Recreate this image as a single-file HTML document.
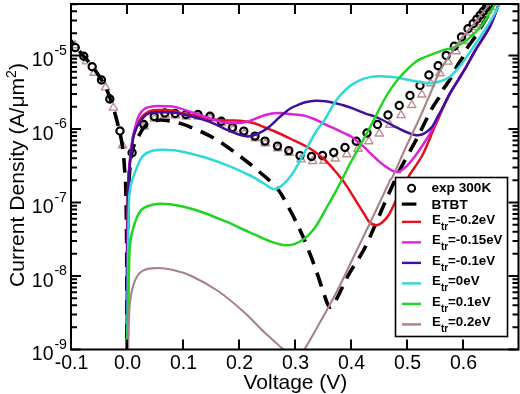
<!DOCTYPE html><html><head><meta charset="utf-8"><style>html,body{margin:0;padding:0;background:#fff;}svg{display:block;}text{font-family:"Liberation Sans",Arial,sans-serif;}</style></head><body>
<svg width="520" height="394" viewBox="0 0 520 394">
<rect width="520" height="394" fill="#fff"/>
<defs><clipPath id="pc"><rect x="71" y="4" width="447.5" height="345.5"/></clipPath></defs>
<g clip-path="url(#pc)" fill="none" stroke-linejoin="round" stroke-linecap="round">
<path d="M75.00 40.60L79.18 47.73H70.82Z" stroke="#bc8f8f" stroke-width="1.4"/>
<path d="M86.50 56.70L90.68 63.83H82.32Z" stroke="#bc8f8f" stroke-width="1.4"/>
<path d="M94.10 68.10L98.28 75.23H89.92Z" stroke="#bc8f8f" stroke-width="1.4"/>
<path d="M105.60 82.70L109.78 89.83H101.42Z" stroke="#bc8f8f" stroke-width="1.4"/>
<path d="M113.40 103.00L117.58 110.13H109.22Z" stroke="#bc8f8f" stroke-width="1.4"/>
<path d="M122.60 140.60L126.78 147.73H118.42Z" stroke="#bc8f8f" stroke-width="1.4"/>
<path d="M144.10 121.81L148.28 128.93H139.92Z" stroke="#bc8f8f" stroke-width="1.4"/>
<path d="M154.50 113.82L158.68 120.95H150.32Z" stroke="#bc8f8f" stroke-width="1.4"/>
<path d="M165.10 110.33L169.28 117.46H160.92Z" stroke="#bc8f8f" stroke-width="1.4"/>
<path d="M175.50 110.85L179.68 117.97H171.32Z" stroke="#bc8f8f" stroke-width="1.4"/>
<path d="M186.30 111.86L190.48 118.99H182.12Z" stroke="#bc8f8f" stroke-width="1.4"/>
<path d="M198.30 111.88L202.48 119.01H194.12Z" stroke="#bc8f8f" stroke-width="1.4"/>
<path d="M210.30 113.69L214.48 120.82H206.12Z" stroke="#bc8f8f" stroke-width="1.4"/>
<path d="M221.60 118.71L225.78 125.84H217.42Z" stroke="#bc8f8f" stroke-width="1.4"/>
<path d="M232.80 124.82L236.98 131.95H228.62Z" stroke="#bc8f8f" stroke-width="1.4"/>
<path d="M244.10 128.54L248.28 135.67H239.92Z" stroke="#bc8f8f" stroke-width="1.4"/>
<path d="M255.30 133.55L259.48 140.68H251.12Z" stroke="#bc8f8f" stroke-width="1.4"/>
<path d="M265.30 138.57L269.48 145.69H261.12Z" stroke="#bc8f8f" stroke-width="1.4"/>
<path d="M277.80 143.58L281.98 150.71H273.62Z" stroke="#bc8f8f" stroke-width="1.4"/>
<path d="M289.10 148.10L293.28 155.23H284.92Z" stroke="#bc8f8f" stroke-width="1.4"/>
<path d="M301.00 154.70L305.18 161.83H296.82Z" stroke="#bc8f8f" stroke-width="1.4"/>
<path d="M312.70 156.37L316.88 163.49H308.52Z" stroke="#bc8f8f" stroke-width="1.4"/>
<path d="M323.90 156.10L328.08 163.23H319.72Z" stroke="#bc8f8f" stroke-width="1.4"/>
<path d="M335.35 153.85L339.53 160.98H331.17Z" stroke="#bc8f8f" stroke-width="1.4"/>
<path d="M346.80 149.60L350.98 156.73H342.62Z" stroke="#bc8f8f" stroke-width="1.4"/>
<path d="M358.05 144.13L362.23 151.26H353.87Z" stroke="#bc8f8f" stroke-width="1.4"/>
<path d="M368.80 136.63L372.98 143.76H364.62Z" stroke="#bc8f8f" stroke-width="1.4"/>
<path d="M379.30 128.87L383.48 136.00H375.12Z" stroke="#bc8f8f" stroke-width="1.4"/>
<path d="M389.80 120.10L393.98 127.23H385.62Z" stroke="#bc8f8f" stroke-width="1.4"/>
<path d="M401.05 110.47L405.23 117.60H396.87Z" stroke="#bc8f8f" stroke-width="1.4"/>
<path d="M411.80 100.35L415.98 107.48H407.62Z" stroke="#bc8f8f" stroke-width="1.4"/>
<path d="M421.80 89.85L425.98 96.98H417.62Z" stroke="#bc8f8f" stroke-width="1.4"/>
<path d="M430.70 78.58L434.88 85.71H426.52Z" stroke="#bc8f8f" stroke-width="1.4"/>
<path d="M439.90 68.59L444.08 75.71H435.72Z" stroke="#bc8f8f" stroke-width="1.4"/>
<path d="M448.00 57.01L452.18 64.14H443.82Z" stroke="#bc8f8f" stroke-width="1.4"/>
<path d="M456.10 46.63L460.28 53.76H451.92Z" stroke="#bc8f8f" stroke-width="1.4"/>
<path d="M463.30 36.50L467.48 43.63H459.12Z" stroke="#bc8f8f" stroke-width="1.4"/>
<path d="M469.80 27.87L473.98 34.99H465.62Z" stroke="#bc8f8f" stroke-width="1.4"/>
<path d="M475.00 22.32L479.18 29.45H470.82Z" stroke="#bc8f8f" stroke-width="1.4"/>
<path d="M478.60 17.68L482.78 24.81H474.42Z" stroke="#bc8f8f" stroke-width="1.4"/>
<path d="M482.00 13.45L486.18 20.58H477.82Z" stroke="#bc8f8f" stroke-width="1.4"/>
<path d="M485.00 9.55L489.18 16.68H480.82Z" stroke="#bc8f8f" stroke-width="1.4"/>
<path d="M488.00 5.65L492.18 12.78H483.82Z" stroke="#bc8f8f" stroke-width="1.4"/>
<path d="M490.30 2.50L494.48 9.63H486.12Z" stroke="#bc8f8f" stroke-width="1.4"/>
<circle cx="75.2" cy="47.6" r="3.6" stroke="#000" stroke-width="2.2"/>
<circle cx="83.8" cy="56.3" r="3.6" stroke="#000" stroke-width="2.2"/>
<circle cx="92.2" cy="66.8" r="3.6" stroke="#000" stroke-width="2.2"/>
<circle cx="101.5" cy="80" r="3.6" stroke="#000" stroke-width="2.2"/>
<circle cx="109.8" cy="99" r="3.6" stroke="#000" stroke-width="2.2"/>
<circle cx="120" cy="131" r="3.6" stroke="#000" stroke-width="2.2"/>
<circle cx="132.1" cy="152.8" r="3.6" stroke="#000" stroke-width="2.2"/>
<circle cx="143.8" cy="124.5" r="3.6" stroke="#000" stroke-width="2.2"/>
<circle cx="154.2" cy="116.5" r="3.6" stroke="#000" stroke-width="2.2"/>
<circle cx="164.8" cy="113" r="3.6" stroke="#000" stroke-width="2.2"/>
<circle cx="175.2" cy="113.5" r="3.6" stroke="#000" stroke-width="2.2"/>
<circle cx="186" cy="114.5" r="3.6" stroke="#000" stroke-width="2.2"/>
<circle cx="198" cy="114.5" r="3.6" stroke="#000" stroke-width="2.2"/>
<circle cx="210" cy="116.3" r="3.6" stroke="#000" stroke-width="2.2"/>
<circle cx="221.3" cy="121.3" r="3.6" stroke="#000" stroke-width="2.2"/>
<circle cx="232.5" cy="127.4" r="3.6" stroke="#000" stroke-width="2.2"/>
<circle cx="243.8" cy="131.1" r="3.6" stroke="#000" stroke-width="2.2"/>
<circle cx="255" cy="136.1" r="3.6" stroke="#000" stroke-width="2.2"/>
<circle cx="265" cy="141.1" r="3.6" stroke="#000" stroke-width="2.2"/>
<circle cx="277.5" cy="146.1" r="3.6" stroke="#000" stroke-width="2.2"/>
<circle cx="288.8" cy="150.6" r="3.6" stroke="#000" stroke-width="2.2"/>
<circle cx="300" cy="155.6" r="3.6" stroke="#000" stroke-width="2.2"/>
<circle cx="311.5" cy="156.5" r="3.6" stroke="#000" stroke-width="2.2"/>
<circle cx="322.5" cy="155.5" r="3.6" stroke="#000" stroke-width="2.2"/>
<circle cx="333.75" cy="152.5" r="3.6" stroke="#000" stroke-width="2.2"/>
<circle cx="345" cy="147.5" r="3.6" stroke="#000" stroke-width="2.2"/>
<circle cx="356.25" cy="141.25" r="3.6" stroke="#000" stroke-width="2.2"/>
<circle cx="367" cy="133" r="3.6" stroke="#000" stroke-width="2.2"/>
<circle cx="377.5" cy="124.5" r="3.6" stroke="#000" stroke-width="2.2"/>
<circle cx="388" cy="115" r="3.6" stroke="#000" stroke-width="2.2"/>
<circle cx="399.25" cy="105.5" r="3.6" stroke="#000" stroke-width="2.2"/>
<circle cx="410" cy="95.5" r="3.6" stroke="#000" stroke-width="2.2"/>
<circle cx="420" cy="85.5" r="3.6" stroke="#000" stroke-width="2.2"/>
<circle cx="428.9" cy="75" r="3.6" stroke="#000" stroke-width="2.2"/>
<circle cx="438.1" cy="65.8" r="3.6" stroke="#000" stroke-width="2.2"/>
<circle cx="446.2" cy="55.4" r="3.6" stroke="#000" stroke-width="2.2"/>
<circle cx="454.3" cy="46.2" r="3.6" stroke="#000" stroke-width="2.2"/>
<circle cx="461.5" cy="37" r="3.6" stroke="#000" stroke-width="2.2"/>
<circle cx="468" cy="28.8" r="3.6" stroke="#000" stroke-width="2.2"/>
<circle cx="473.2" cy="23.6" r="3.6" stroke="#000" stroke-width="2.2"/>
<circle cx="476.8" cy="19.2" r="3.6" stroke="#000" stroke-width="2.2"/>
<circle cx="480.2" cy="15.2" r="3.6" stroke="#000" stroke-width="2.2"/>
<circle cx="483.2" cy="11.5" r="3.6" stroke="#000" stroke-width="2.2"/>
<circle cx="486.2" cy="7.8" r="3.6" stroke="#000" stroke-width="2.2"/>
<circle cx="488.5" cy="4.8" r="3.6" stroke="#000" stroke-width="2.2"/>
<path d="M71.00 40.70C71.67 41.58 73.00 43.53 75.00 46.00C77.00 48.47 80.17 52.17 83.00 55.50C85.83 58.83 89.00 62.08 92.00 66.00C95.00 69.92 98.67 75.33 101.00 79.00C103.33 82.67 104.50 84.83 106.00 88.00C107.50 91.17 108.67 94.33 110.00 98.00C111.33 101.67 112.67 105.50 114.00 110.00C115.33 114.50 116.83 120.33 118.00 125.00C119.17 129.67 120.13 133.50 121.00 138.00C121.87 142.50 122.62 147.00 123.20 152.00C123.78 157.00 124.07 161.67 124.50 168.00C124.93 174.33 125.43 176.33 125.80 190.00C126.17 203.67 126.50 223.00 126.70 250.00C126.90 277.00 126.95 335.00 127.00 352.00" stroke="#000" stroke-width="3.6" stroke-dasharray="14.5 9.15" stroke-dashoffset="-13.4" stroke-linecap="butt"/>
<path d="M127.20 352.00C127.27 335.00 127.43 275.33 127.60 250.00C127.77 224.67 127.97 211.67 128.20 200.00C128.43 188.33 128.37 188.00 129.00 180.00C129.63 172.00 130.42 159.27 132.00 152.00C133.58 144.73 136.15 140.90 138.50 136.40C140.85 131.90 142.93 127.68 146.10 125.00C149.27 122.32 153.85 121.03 157.50 120.30C161.15 119.57 164.45 120.15 168.00 120.60C171.55 121.05 174.97 121.88 178.80 123.00C182.63 124.12 184.97 124.67 191.00 127.30C197.03 129.93 206.83 133.93 215.00 138.75C223.17 143.57 232.50 150.62 240.00 156.25C247.50 161.88 253.75 167.08 260.00 172.50C266.25 177.92 272.50 182.50 277.50 188.75C282.50 195.00 286.25 203.12 290.00 210.00C293.75 216.88 297.08 223.75 300.00 230.00C302.92 236.25 304.75 240.58 307.50 247.50C310.25 254.42 313.65 263.45 316.50 271.50C319.35 279.55 322.43 289.88 324.60 295.80C326.77 301.72 327.70 306.10 329.50 307.00C331.30 307.90 332.17 306.67 335.40 301.20C338.63 295.73 344.18 282.73 348.90 274.20C353.62 265.67 359.30 258.23 363.70 250.00C368.10 241.77 371.58 233.13 375.30 224.80C379.02 216.47 381.95 209.07 386.00 200.00C390.05 190.93 394.42 180.72 399.60 170.40C404.78 160.08 411.82 148.23 417.10 138.10C422.38 127.97 427.58 116.47 431.30 109.60C435.02 102.73 437.37 100.37 439.40 96.90C441.43 93.43 441.80 91.58 443.50 88.80C445.20 86.02 447.30 84.05 449.60 80.20C451.90 76.35 455.12 69.52 457.30 65.70C459.48 61.88 460.98 60.35 462.70 57.30C464.42 54.25 465.52 50.82 467.60 47.40C469.68 43.98 473.03 40.10 475.20 36.80C477.37 33.50 479.07 30.15 480.60 27.60C482.13 25.05 482.83 24.10 484.40 21.50C485.97 18.90 488.32 15.08 490.00 12.00C491.68 8.92 493.58 4.83 494.50 3.00C495.42 1.17 495.33 1.33 495.50 1.00" stroke="#000" stroke-width="3.6" stroke-dasharray="14.5 9.15" stroke-dashoffset="-4.7" stroke-linecap="butt"/>
<path d="M127.20 352.00C127.27 335.00 127.47 275.33 127.60 250.00C127.73 224.67 127.85 211.67 128.00 200.00C128.15 188.33 128.23 185.83 128.50 180.00C128.77 174.17 129.18 169.67 129.60 165.00C130.02 160.33 130.43 156.50 131.00 152.00C131.57 147.50 132.12 142.00 133.00 138.00C133.88 134.00 134.93 131.38 136.30 128.00C137.67 124.62 138.85 120.57 141.20 117.70C143.55 114.83 146.95 112.08 150.40 110.80C153.85 109.52 158.32 110.07 161.90 110.00C165.48 109.93 168.88 109.93 171.90 110.40C174.92 110.87 176.15 111.87 180.00 112.80C183.85 113.73 190.00 114.97 195.00 116.00C200.00 117.03 205.38 118.27 210.00 119.00C214.62 119.73 218.67 120.17 222.70 120.40C226.73 120.63 230.62 120.27 234.20 120.40C237.78 120.53 240.73 120.68 244.20 121.20C247.67 121.72 251.53 122.45 255.00 123.50C258.47 124.55 261.67 126.17 265.00 127.50C268.33 128.83 270.83 129.67 275.00 131.50C279.17 133.33 284.17 135.67 290.00 138.50C295.83 141.33 304.17 144.92 310.00 148.50C315.83 152.08 320.97 156.42 325.00 160.00C329.03 163.58 331.42 166.82 334.20 170.00C336.98 173.18 339.50 176.25 341.70 179.10C343.90 181.95 345.50 184.25 347.40 187.10C349.30 189.95 351.20 193.17 353.10 196.20C355.00 199.23 356.90 202.25 358.80 205.30C360.70 208.35 362.80 211.80 364.50 214.50C366.20 217.20 367.20 219.70 369.00 221.50C370.80 223.30 373.10 225.13 375.30 225.30C377.50 225.47 379.92 224.30 382.20 222.50C384.48 220.70 386.92 217.73 389.00 214.50C391.08 211.27 392.62 207.27 394.70 203.10C396.78 198.93 399.12 194.05 401.50 189.50C403.88 184.95 405.50 181.55 409.00 175.80C412.50 170.05 418.45 162.63 422.50 155.00C426.55 147.37 430.63 136.08 433.30 130.00C435.97 123.92 437.00 121.92 438.50 118.50C440.00 115.08 440.38 113.68 442.30 109.50C444.22 105.32 447.38 98.27 450.00 93.40C452.62 88.53 455.23 84.83 458.00 80.30C460.77 75.77 463.73 71.17 466.60 66.20C469.47 61.23 471.35 57.05 475.20 50.50C479.05 43.95 485.73 34.65 489.70 26.90C493.67 19.15 497.28 8.15 499.00 4.00C500.72 -0.15 499.83 2.33 500.00 2.00" stroke="#e4101e" stroke-width="2.5"/>
<path d="M127.20 352.00C127.25 335.00 127.38 275.33 127.50 250.00C127.62 224.67 127.77 211.67 127.90 200.00C128.03 188.33 128.05 185.83 128.30 180.00C128.55 174.17 128.98 169.67 129.40 165.00C129.82 160.33 130.27 156.50 130.80 152.00C131.33 147.50 131.90 142.00 132.60 138.00C133.30 134.00 133.97 131.70 135.00 128.00C136.03 124.30 137.13 119.05 138.80 115.80C140.47 112.55 142.43 110.10 145.00 108.50C147.57 106.90 150.73 106.58 154.20 106.20C157.67 105.82 162.33 106.08 165.80 106.20C169.27 106.32 170.72 105.88 175.00 106.90C179.28 107.92 186.82 110.75 191.50 112.30C196.18 113.85 199.25 114.92 203.10 116.20C206.95 117.48 210.70 118.90 214.60 120.00C218.50 121.10 222.58 122.28 226.50 122.80C230.42 123.32 234.88 123.27 238.10 123.10C241.32 122.93 243.82 122.17 245.80 121.80C247.78 121.43 247.60 121.73 250.00 120.90C252.40 120.07 256.82 117.98 260.20 116.80C263.58 115.62 266.92 114.42 270.30 113.80C273.68 113.18 277.10 113.05 280.50 113.10C283.90 113.15 287.45 113.78 290.70 114.10C293.95 114.42 297.58 114.70 300.00 115.00C302.42 115.30 302.65 115.15 305.20 115.90C307.75 116.65 311.92 118.05 315.30 119.50C318.68 120.95 322.10 123.00 325.50 124.60C328.90 126.20 332.45 127.62 335.70 129.10C338.95 130.58 342.37 132.22 345.00 133.50C347.63 134.78 349.33 135.38 351.50 136.80C353.67 138.22 355.68 140.10 358.00 142.00C360.32 143.90 363.40 146.38 365.40 148.20C367.40 150.02 368.07 151.02 370.00 152.90C371.93 154.78 374.75 157.48 377.00 159.50C379.25 161.52 380.85 163.08 383.50 165.00C386.15 166.92 390.33 169.88 392.90 171.00C395.47 172.12 396.88 172.25 398.90 171.70C400.92 171.15 402.42 170.17 405.00 167.70C407.58 165.23 411.27 160.93 414.40 156.90C417.53 152.87 420.88 147.98 423.80 143.50C426.72 139.02 429.62 134.25 431.90 130.00C434.18 125.75 435.85 121.42 437.50 118.00C439.15 114.58 439.72 113.60 441.80 109.50C443.88 105.40 447.30 98.27 450.00 93.40C452.70 88.53 455.23 84.83 458.00 80.30C460.77 75.77 463.73 71.17 466.60 66.20C469.47 61.23 471.35 57.05 475.20 50.50C479.05 43.95 485.73 34.65 489.70 26.90C493.67 19.15 497.28 8.15 499.00 4.00C500.72 -0.15 499.83 2.33 500.00 2.00" stroke="#dc22dc" stroke-width="2.5"/>
<path d="M127.20 352.00C127.27 335.00 127.45 275.33 127.60 250.00C127.75 224.67 127.93 211.67 128.10 200.00C128.27 188.33 128.32 185.83 128.60 180.00C128.88 174.17 129.35 169.67 129.80 165.00C130.25 160.33 130.70 156.67 131.30 152.00C131.90 147.33 132.58 140.92 133.40 137.00C134.22 133.08 135.17 130.92 136.20 128.50C137.23 126.08 137.88 124.82 139.60 122.50C141.32 120.18 144.07 116.30 146.50 114.60C148.93 112.90 150.98 112.68 154.20 112.30C157.42 111.92 162.33 112.23 165.80 112.30C169.27 112.37 170.72 112.00 175.00 112.70C179.28 113.40 186.82 115.35 191.50 116.50C196.18 117.65 199.25 118.38 203.10 119.60C206.95 120.82 210.70 122.13 214.60 123.80C218.50 125.47 222.58 127.87 226.50 129.60C230.42 131.33 234.52 133.03 238.10 134.20C241.68 135.37 244.67 136.70 248.00 136.60C251.33 136.50 254.72 135.12 258.10 133.60C261.48 132.08 264.57 130.38 268.30 127.50C272.03 124.62 276.77 119.52 280.50 116.30C284.23 113.08 287.45 110.22 290.70 108.20C293.95 106.18 297.58 105.20 300.00 104.20C302.42 103.20 302.65 102.78 305.20 102.20C307.75 101.62 311.92 100.87 315.30 100.70C318.68 100.53 322.10 100.78 325.50 101.20C328.90 101.62 332.45 102.43 335.70 103.20C338.95 103.97 341.95 104.85 345.00 105.80C348.05 106.75 350.47 107.57 354.00 108.90C357.53 110.23 363.02 112.63 366.20 113.80C369.38 114.97 370.55 114.95 373.10 115.90C375.65 116.85 377.85 117.72 381.50 119.50C385.15 121.28 391.08 124.60 395.00 126.60C398.92 128.60 402.50 130.35 405.00 131.50C407.50 132.65 408.17 132.88 410.00 133.50C411.83 134.12 414.00 135.03 416.00 135.20C418.00 135.37 420.08 135.16 422.00 134.50C423.92 133.84 425.75 132.62 427.50 131.25C429.25 129.88 430.92 128.46 432.50 126.25C434.08 124.04 435.50 120.71 437.00 118.00C438.50 115.29 439.33 114.10 441.50 110.00C443.67 105.90 447.25 98.35 450.00 93.40C452.75 88.45 455.23 84.83 458.00 80.30C460.77 75.77 463.73 71.17 466.60 66.20C469.47 61.23 471.35 57.05 475.20 50.50C479.05 43.95 485.73 34.65 489.70 26.90C493.67 19.15 497.28 8.15 499.00 4.00C500.72 -0.15 499.83 2.33 500.00 2.00" stroke="#400f9f" stroke-width="2.5"/>
<path d="M127.20 352.00C127.42 330.00 128.03 247.00 128.50 220.00C128.97 193.00 129.08 197.50 130.00 190.00C130.92 182.50 132.02 180.45 134.00 175.00C135.98 169.55 139.03 161.28 141.90 157.30C144.77 153.32 147.73 152.37 151.20 151.10C154.67 149.83 159.15 149.85 162.70 149.70C166.25 149.55 169.42 149.90 172.50 150.20C175.58 150.50 175.90 150.32 181.20 151.50C186.50 152.68 196.60 154.98 204.30 157.30C212.00 159.62 220.47 162.70 227.40 165.40C234.33 168.10 241.30 171.38 245.90 173.50C250.50 175.62 251.82 176.30 255.00 178.10C258.18 179.90 261.88 182.44 265.00 184.30C268.12 186.16 270.83 189.13 273.75 189.25C276.67 189.37 279.54 187.38 282.50 185.00C285.46 182.62 288.50 179.17 291.50 175.00C294.50 170.83 296.50 167.08 300.50 160.00C304.50 152.92 311.48 139.17 315.50 132.50C319.52 125.83 321.28 125.17 324.60 120.00C327.92 114.83 331.80 106.63 335.40 101.50C339.00 96.37 342.35 92.65 346.20 89.20C350.05 85.75 354.40 82.85 358.50 80.80C362.60 78.75 367.22 77.67 370.80 76.90C374.38 76.13 376.77 76.22 380.00 76.20C383.23 76.18 386.82 76.45 390.20 76.80C393.58 77.15 396.92 77.72 400.30 78.30C403.68 78.88 407.22 79.68 410.50 80.30C413.78 80.92 416.70 81.52 420.00 82.00C423.30 82.48 426.88 83.33 430.30 83.20C433.72 83.07 437.17 82.32 440.50 81.20C443.83 80.08 446.83 79.30 450.30 76.50C453.77 73.70 457.78 68.82 461.30 64.40C464.82 59.98 468.07 54.87 471.40 50.00C474.73 45.13 478.25 39.82 481.30 35.20C484.35 30.58 487.58 25.67 489.70 22.30C491.82 18.93 492.52 17.70 494.00 15.00C495.48 12.30 497.60 8.10 498.60 6.10C499.60 4.10 499.77 3.52 500.00 3.00" stroke="#30d8d8" stroke-width="2.5"/>
<path d="M127.20 352.00C127.42 341.67 128.10 307.00 128.50 290.00C128.90 273.00 129.10 259.17 129.60 250.00C130.10 240.83 130.73 239.17 131.50 235.00C132.27 230.83 133.20 228.17 134.20 225.00C135.20 221.83 136.33 218.50 137.50 216.00C138.67 213.50 139.45 211.67 141.20 210.00C142.95 208.33 144.93 207.03 148.00 206.00C151.07 204.97 155.93 204.08 159.60 203.80C163.27 203.52 166.15 203.85 170.00 204.30C173.85 204.75 178.53 205.58 182.70 206.50C186.87 207.42 191.15 208.63 195.00 209.80C198.85 210.97 202.13 212.13 205.80 213.50C209.47 214.87 213.15 216.47 217.00 218.00C220.85 219.53 225.07 221.03 228.90 222.70C232.73 224.37 235.65 226.02 240.00 228.00C244.35 229.98 250.00 232.38 255.00 234.60C260.00 236.82 264.58 239.52 270.00 241.30C275.42 243.08 282.08 245.52 287.50 245.30C292.92 245.08 297.92 242.97 302.50 240.00C307.08 237.03 310.83 233.17 315.00 227.50C319.17 221.83 324.00 212.07 327.50 206.00C331.00 199.93 332.78 197.10 336.00 191.10C339.22 185.10 344.26 174.97 346.80 170.00C349.34 165.03 347.88 167.47 351.25 161.30C354.62 155.13 363.24 139.88 367.00 133.00C370.76 126.12 370.95 125.50 373.80 120.00C376.65 114.50 381.20 105.27 384.10 100.00C387.00 94.73 388.67 92.10 391.20 88.40C393.73 84.70 396.60 81.02 399.30 77.80C402.00 74.58 404.70 71.73 407.40 69.10C410.10 66.47 413.33 63.68 415.50 62.00C417.67 60.32 417.47 60.35 420.40 59.00C423.33 57.65 429.23 55.38 433.10 53.90C436.97 52.42 440.58 51.05 443.60 50.10C446.62 49.15 448.67 49.03 451.20 48.20C453.73 47.37 456.33 46.33 458.80 45.10C461.27 43.87 464.10 42.13 466.00 40.80C467.90 39.47 468.48 38.65 470.20 37.10C471.92 35.55 474.50 33.30 476.30 31.50C478.10 29.70 479.20 28.63 481.00 26.30C482.80 23.97 484.80 21.12 487.10 17.50C489.40 13.88 493.32 7.10 494.80 4.60C496.28 2.10 495.80 2.85 496.00 2.50" stroke="#22d422" stroke-width="2.5"/>
<path d="M127.20 352.00C127.37 351.08 127.77 354.50 128.20 346.50C128.63 338.50 128.72 314.90 129.80 304.00C130.88 293.10 132.52 286.65 134.70 281.10C136.88 275.55 139.37 272.87 142.90 270.70C146.43 268.53 151.00 268.27 155.90 268.10C160.80 267.93 166.30 268.35 172.30 269.70C178.30 271.05 184.28 272.65 191.90 276.20C199.52 279.75 209.28 285.00 218.00 291.00C226.72 297.00 236.57 305.40 244.20 312.20C251.83 319.00 257.53 325.82 263.80 331.80C270.07 337.78 278.43 344.73 281.80 348.10C285.17 351.47 283.63 351.35 284.00 352.00" stroke="#a98285" stroke-width="2.1"/>
<path d="M303.00 352.00C303.27 351.55 303.28 351.53 304.60 349.30C305.92 347.07 308.37 343.05 310.90 338.60C313.43 334.15 316.83 327.92 319.80 322.60C322.77 317.28 325.33 312.92 328.70 306.70C332.07 300.48 335.30 294.75 340.00 285.30C344.70 275.85 351.87 260.47 356.90 250.00C361.93 239.53 365.27 232.83 370.20 222.50C375.13 212.17 383.17 195.08 386.50 188.00C389.83 180.92 389.00 182.23 390.20 180.00C391.40 177.77 391.15 179.93 393.70 174.60C396.25 169.27 401.52 156.68 405.50 148.00C409.48 139.32 414.65 128.83 417.60 122.50C420.55 116.17 420.83 115.42 423.20 110.00C425.57 104.58 428.92 96.67 431.80 90.00C434.68 83.33 436.17 77.82 440.50 70.00C444.83 62.18 451.97 51.13 457.80 43.10C463.63 35.07 470.13 28.40 475.50 21.80C480.87 15.20 487.42 6.80 490.00 3.50C492.58 0.20 490.83 2.25 491.00 2.00" stroke="#a98285" stroke-width="2.1"/>
</g>
<rect x="71.0" y="4.0" width="447.5" height="345.5" fill="none" stroke="#000" stroke-width="2"/>
<path d="M127.00 349.5V339.5M127.00 4.0V14.0M183.00 349.5V339.5M183.00 4.0V14.0M239.00 349.5V339.5M239.00 4.0V14.0M295.00 349.5V339.5M295.00 4.0V14.0M351.00 349.5V339.5M351.00 4.0V14.0M407.00 349.5V339.5M407.00 4.0V14.0M463.00 349.5V339.5M463.00 4.0V14.0M71.0 349.50H81.0M518.5 349.50H508.5M71.0 327.37H77.0M518.5 327.37H512.5M71.0 314.43H77.0M518.5 314.43H512.5M71.0 305.25H77.0M518.5 305.25H512.5M71.0 298.13H77.0M518.5 298.13H512.5M71.0 292.31H77.0M518.5 292.31H512.5M71.0 287.39H77.0M518.5 287.39H512.5M71.0 283.12H77.0M518.5 283.12H512.5M71.0 279.36H77.0M518.5 279.36H512.5M71.0 276.00H81.0M518.5 276.00H508.5M71.0 253.87H77.0M518.5 253.87H512.5M71.0 240.93H77.0M518.5 240.93H512.5M71.0 231.75H77.0M518.5 231.75H512.5M71.0 224.63H77.0M518.5 224.63H512.5M71.0 218.81H77.0M518.5 218.81H512.5M71.0 213.89H77.0M518.5 213.89H512.5M71.0 209.62H77.0M518.5 209.62H512.5M71.0 205.86H77.0M518.5 205.86H512.5M71.0 202.50H81.0M518.5 202.50H508.5M71.0 180.37H77.0M518.5 180.37H512.5M71.0 167.43H77.0M518.5 167.43H512.5M71.0 158.25H77.0M518.5 158.25H512.5M71.0 151.13H77.0M518.5 151.13H512.5M71.0 145.31H77.0M518.5 145.31H512.5M71.0 140.39H77.0M518.5 140.39H512.5M71.0 136.12H77.0M518.5 136.12H512.5M71.0 132.36H77.0M518.5 132.36H512.5M71.0 129.00H81.0M518.5 129.00H508.5M71.0 106.87H77.0M518.5 106.87H512.5M71.0 93.93H77.0M518.5 93.93H512.5M71.0 84.75H77.0M518.5 84.75H512.5M71.0 77.63H77.0M518.5 77.63H512.5M71.0 71.81H77.0M518.5 71.81H512.5M71.0 66.89H77.0M518.5 66.89H512.5M71.0 62.62H77.0M518.5 62.62H512.5M71.0 58.86H77.0M518.5 58.86H512.5M71.0 55.50H81.0M518.5 55.50H508.5M71.0 33.37H77.0M518.5 33.37H512.5M71.0 20.43H77.0M518.5 20.43H512.5M71.0 11.25H77.0M518.5 11.25H512.5M71.0 4.13H77.0M518.5 4.13H512.5" stroke="#000" stroke-width="2" fill="none"/>
<text x="71.50" y="368.8" font-size="19.5" text-anchor="middle">-0.1</text>
<text x="127.50" y="368.8" font-size="19.5" text-anchor="middle">0.0</text>
<text x="183.50" y="368.8" font-size="19.5" text-anchor="middle">0.1</text>
<text x="239.50" y="368.8" font-size="19.5" text-anchor="middle">0.2</text>
<text x="295.50" y="368.8" font-size="19.5" text-anchor="middle">0.3</text>
<text x="351.50" y="368.8" font-size="19.5" text-anchor="middle">0.4</text>
<text x="407.50" y="368.8" font-size="19.5" text-anchor="middle">0.5</text>
<text x="463.50" y="368.8" font-size="19.5" text-anchor="middle">0.6</text>
<text x="67" y="360.20" font-size="19.5" text-anchor="end">10<tspan font-size="14.2" dy="-11.3" dx="0.8">-9</tspan></text>
<text x="67" y="286.70" font-size="19.5" text-anchor="end">10<tspan font-size="14.2" dy="-11.3" dx="0.8">-8</tspan></text>
<text x="67" y="213.20" font-size="19.5" text-anchor="end">10<tspan font-size="14.2" dy="-11.3" dx="0.8">-7</tspan></text>
<text x="67" y="139.70" font-size="19.5" text-anchor="end">10<tspan font-size="14.2" dy="-11.3" dx="0.8">-6</tspan></text>
<text x="67" y="66.20" font-size="19.5" text-anchor="end">10<tspan font-size="14.2" dy="-11.3" dx="0.8">-5</tspan></text>
<text x="295.4" y="388.6" font-size="21" text-anchor="middle">Voltage (V)</text>
<text transform="translate(24.2,175) rotate(-90)" font-size="21.1" text-anchor="middle">Current Density (A/μm<tspan font-size="14" dy="-8">2</tspan><tspan dy="8">)</tspan></text>
<rect x="395.5" y="177.5" width="112" height="159" fill="#fff" stroke="#000" stroke-width="1.6"/>
<circle cx="411.6" cy="188.2" r="3.5" fill="none" stroke="#000" stroke-width="2"/>
<text x="431.5" y="192.1" font-size="13.6" font-weight="bold">exp 300K</text>
<path d="M401.7 204.1H416.4" stroke="#000" stroke-width="3.2"/>
<text x="431.5" y="208.8" font-size="13.6" font-weight="bold">BTBT</text>
<path d="M402 221.9H421" stroke="#e4101e" stroke-width="2.4"/>
<text x="432" y="223.9" font-size="13.3" font-weight="bold">E<tspan font-size="10" dy="6">tr</tspan><tspan dy="-6">=-0.2eV</tspan></text>
<path d="M402 242.4H421" stroke="#dc22dc" stroke-width="2.4"/>
<text x="432" y="244.4" font-size="13.3" font-weight="bold">E<tspan font-size="10" dy="6">tr</tspan><tspan dy="-6">=-0.15eV</tspan></text>
<path d="M402 262.9H421" stroke="#400f9f" stroke-width="2.4"/>
<text x="432" y="264.9" font-size="13.3" font-weight="bold">E<tspan font-size="10" dy="6">tr</tspan><tspan dy="-6">=-0.1eV</tspan></text>
<path d="M402 283.4H421" stroke="#30d8d8" stroke-width="2.4"/>
<text x="432" y="285.4" font-size="13.3" font-weight="bold">E<tspan font-size="10" dy="6">tr</tspan><tspan dy="-6">=0eV</tspan></text>
<path d="M402 303.9H421" stroke="#22d422" stroke-width="2.4"/>
<text x="432" y="305.9" font-size="13.3" font-weight="bold">E<tspan font-size="10" dy="6">tr</tspan><tspan dy="-6">=0.1eV</tspan></text>
<path d="M402 324.4H421" stroke="#a98285" stroke-width="2.4"/>
<text x="432" y="326.4" font-size="13.3" font-weight="bold">E<tspan font-size="10" dy="6">tr</tspan><tspan dy="-6">=0.2eV</tspan></text>
</svg></body></html>
